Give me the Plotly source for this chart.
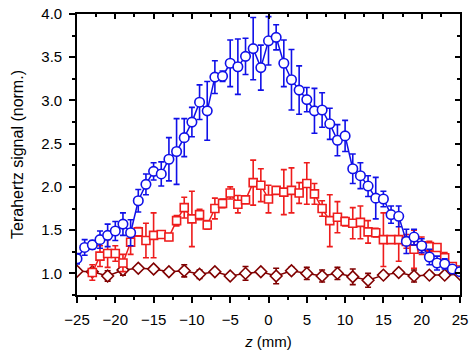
import plotly.graph_objects as go

# ---- data ----
blue_z = list(range(-25, 26))
blue_v = [1.17, 1.30, 1.33, 1.39, 1.44, 1.49, 1.57, 1.47, 1.84, 2.03,
          2.18, 2.15, 2.32, 2.41, 2.57, 2.75, 2.98, 2.88, 3.27, 3.28,
          3.43, 3.39, 3.51, 3.60, 3.38, 3.69, 3.73, 3.43, 3.24, 3.12,
          3.01, 2.88, 2.89, 2.73, 2.54, 2.59, 2.21, 2.13, 2.01, 1.87,
          1.86, 1.68, 1.66, 1.37, 1.42, 1.32, 1.19, 1.12, 1.11, 1.05,
          1.02]
blue_err = [0.06, 0.09, 0.05, 0.10, 0.13, 0.11, 0.13, 0.15, 0.13, 0.12,
            0.10, 0.14, 0.25, 0.38, 0.22, 0.17, 0.20, 0.34, 0.19, 0.06,
            0.27, 0.32, 0.21, 0.36, 0.26, 0.28, 0.145, 0.27, 0.35, 0.28,
            0.14, 0.26, 0.20, 0.18, 0.18, 0.18, 0.17, 0.15, 0.12, 0.24,
            0.09, 0.10, 0.12, 0.14, 0.09, 0.08, 0.09, 0.08, 0.06, 0.04,
            0.04]

red_z = list(range(-23, 26))
red_v = [1.01, 1.20, 1.23, 1.23, 1.12, 1.36, 1.48, 1.38, 1.44, 1.45,
         1.42, 1.61, 1.76, 1.63, 1.68, 1.56, 1.75, 1.81, 1.93, 1.80,
         1.85, 2.05, 2.02, 1.86, 1.96, 1.94, 1.96, 1.93, 2.04, 1.92,
         1.75, 1.61, 1.65, 1.60, 1.58, 1.59, 1.48, 1.47, 1.39, 1.39,
         1.39, 1.37, 1.28, 1.32, 1.31, 1.30, 1.18, 1.08, 1.04]
red_err = [0.09, 0.12, 0.16, 0.09, 0.10, 0.14, 0.05, 0.20, 0.26, 0.04,
           0.04, 0.06, 0.12, 0.32, 0.06, 0.05, 0.12, 0.05, 0.07, 0.10,
           0.03, 0.26, 0.19, 0.16, 0.03, 0.26, 0.26, 0.12, 0.24, 0.12,
           0.09, 0.30, 0.18, 0.05, 0.18, 0.19, 0.13, 0.05, 0.31, 0.03,
           0.25, 0.08, 0.22, 0.10, 0.06, 0.04, 0.06, 0.04, 0.04]

dia_z = list(range(-25, 26, 2))
dia_v = [1.025, 1.02, 0.97, 1.04, 1.06, 1.05, 1.02, 1.03, 0.99, 1.02,
         0.97, 1.00, 1.02, 0.97, 1.03, 1.00, 0.97, 1.00, 0.96, 0.92,
         0.98, 1.01, 0.97, 0.98, 0.98, 0.99]
dia_err = [0.03, 0.03, 0.06, 0.06, 0.02, 0.03, 0.03, 0.07, 0.05, 0.03,
           0.03, 0.08, 0.03, 0.09, 0.04, 0.07, 0.07, 0.07, 0.09, 0.08,
           0.03, 0.03, 0.07, 0.03, 0.03, 0.03]

BLUE = "#1010e8"
RED = "#ee1c1c"
DARK = "#800000"

fig = go.Figure()

def add_series(z, v, err, color, symbol, size):
    fig.add_trace(go.Scatter(
        x=z, y=v, mode="lines+markers",
        line=dict(color=color, width=1.5),
        marker=dict(symbol=symbol, size=size, color="white",
                    line=dict(color=color, width=1.6)),
        error_y=dict(type="data", array=err, color=color,
                     thickness=1.6, width=3),
        showlegend=False, hoverinfo="skip"))

add_series(dia_z, dia_v, dia_err, DARK, "diamond", 9)
add_series(red_z, red_v, red_err, RED, "square", 8)
add_series(blue_z, blue_v, blue_err, BLUE, "circle", 9.5)

# helper trace for mirrored inward ticks on top/right
fig.add_trace(go.Scatter(x=[], y=[], xaxis="x2", yaxis="y2",
                         showlegend=False, hoverinfo="skip"))

FONT = "Liberation Sans, Arial, sans-serif"
XR = [-25, 25]
YR = [0.75, 4.0]

fig.update_layout(
    width=474, height=352,
    margin=dict(l=77, r=14, t=14, b=57),
    paper_bgcolor="white", plot_bgcolor="white",
    font=dict(family=FONT, size=15, color="black"),
    xaxis=dict(range=XR, dtick=5, tick0=0, showgrid=False, zeroline=False,
               automargin=False,
               showline=True, linecolor="black", linewidth=1.6, mirror=True,
               ticks="outside", ticklen=6, tickwidth=1.5, tickcolor="black",
               ticklabelstandoff=4,
               minor=dict(ticks="outside", ticklen=3, tickwidth=1.5,
                          dtick=2.5, tickcolor="black"),
               title=dict(text="<i>z</i> (mm)", standoff=10,
                          font=dict(size=15)),
               tickfont=dict(size=15)),
    yaxis=dict(range=YR, dtick=0.5, tick0=0, tickformat=".1f",
               showgrid=False, zeroline=False, automargin=False,
               showline=True, linecolor="black", linewidth=1.6, mirror=True,
               ticks="outside", ticklen=6, tickwidth=1.5, tickcolor="black",
               ticklabelstandoff=4,
               minor=dict(ticks="outside", ticklen=3, tickwidth=1.5,
                          dtick=0.25, tickcolor="black"),
               title=dict(text="Terahertz signal (norm.)", standoff=14,
                          font=dict(size=16)),
               tickfont=dict(size=15)),
    xaxis2=dict(range=XR, overlaying="x", side="top", anchor="y2",
                automargin=False,
                dtick=5, tick0=0, showgrid=False, zeroline=False,
                showline=False, showticklabels=False,
                ticks="inside", ticklen=5, tickwidth=1.5, tickcolor="black",
                minor=dict(ticks="inside", ticklen=3, tickwidth=1.5,
                           dtick=2.5, tickcolor="black")),
    yaxis2=dict(range=YR, overlaying="y", side="right", anchor="x2",
                automargin=False,
                dtick=0.5, tick0=0, showgrid=False, zeroline=False,
                showline=False, showticklabels=False,
                ticks="inside", ticklen=5, tickwidth=1.5, tickcolor="black",
                minor=dict(ticks="inside", ticklen=3, tickwidth=1.5,
                           dtick=0.25, tickcolor="black")),
)

fig.write_html("out.html")
